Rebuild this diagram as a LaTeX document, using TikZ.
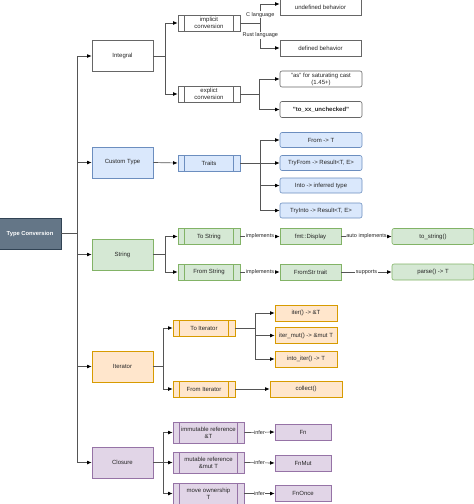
\documentclass[tikz,border=0pt]{standalone}
\usepackage{fontspec}
\setmainfont{Liberation Sans}
\usetikzlibrary{arrows.meta}
\definecolor{lnc}{HTML}{555555}
\definecolor{grs}{HTML}{666666}
\definecolor{tcf}{HTML}{647687}
\definecolor{tcs}{HTML}{314354}
\definecolor{blf}{HTML}{DAE8FC}
\definecolor{bls}{HTML}{6C8EBF}
\definecolor{gnf}{HTML}{D5E8D4}
\definecolor{gns}{HTML}{82B366}
\definecolor{orf}{HTML}{FFE6CC}
\definecolor{ors}{HTML}{D79B00}
\definecolor{puf}{HTML}{E1D5E7}
\definecolor{pus}{HTML}{9673A6}
\tikzset{
  bx/.style={rectangle, draw=#1, line width=0.6pt, inner sep=0pt, align=center,
    font=\fontsize{6}{7}\selectfont, text=black!85},
  inner/.style={path picture={\draw[#1, line width=0.6pt]
    ([xshift=6.3pt]path picture bounding box.north west) -- ([xshift=6.3pt]path picture bounding box.south west)
    ([xshift=-6.3pt]path picture bounding box.north east) -- ([xshift=-6.3pt]path picture bounding box.south east);}},
  cat/.style={minimum width=61pt, minimum height=31pt},
  sml/.style={minimum height=16pt},
  rnd/.style={rounded corners=2pt},
  arr/.style={draw=lnc, line width=0.7pt, -{Latex[length=4.6pt,width=3.8pt,color=black]}},
  lab/.style={fill=white, inner sep=0.6pt, font=\fontsize{5.5}{6}\selectfont, text=black!85},
}
\begin{document}
\begin{tikzpicture}[x=1pt,y=-1pt]
\useasboundingbox (0,0) rectangle (474,504);
% root
\node[bx=tcs, fill=tcf, minimum width=62pt, minimum height=31pt, text=white, font=\bfseries\fontsize{5.8}{7}\selectfont] (tc) at (30,233.5) {Type Conversion};
% categories
\node[bx=grs, fill=white, cat] (integral) at (122.5,56) {Integral};
\node[bx=bls, fill=blf, cat] (custom) at (122.5,162.5) {Custom Type};
\node[bx=gns, fill=gnf, cat] (string) at (122.5,254.5) {String};
\node[bx=ors, fill=orf, cat] (iterator) at (122.5,366.5) {Iterator};
\node[bx=pus, fill=puf, cat] (closure) at (122.5,462.5) {Closure};
% integral
\node[bx=grs, fill=white, inner=grs, minimum width=62pt, sml] (implicit) at (209,23) {implicit\\conversion};
\node[bx=grs, fill=white, inner=grs, minimum width=62pt, sml] (explicit) at (209,94) {explict\\conversion};
\node[bx=grs, fill=white, minimum width=81pt, sml] (undef) at (320.5,7) {undefined behavior};
\node[bx=grs, fill=white, minimum width=81pt, sml] (def) at (320.5,48) {defined behavior};
\node[bx=grs, fill=white, rnd, minimum width=82pt, sml] (as) at (321,79) {"as" for saturating cast\\(1.45+)};
\node[bx=grs, fill=white, rnd, minimum width=82pt, sml] (unchk) at (321,109.5) {\bfseries "to\_xx\_unchecked"};
% custom type
\node[bx=bls, fill=blf, inner=bls, minimum width=62pt, sml] (traits) at (209,163) {Traits};
\node[bx=bls, fill=blf, rnd, minimum width=82pt, minimum height=15pt] (from) at (321,140) {From -> T};
\node[bx=bls, fill=blf, rnd, minimum width=82pt, minimum height=15pt] (tryfrom) at (321,163) {TryFrom -> Result<T, E>};
\node[bx=bls, fill=blf, rnd, minimum width=82pt, minimum height=15pt] (into) at (321,185.5) {Into -> inferred type};
\node[bx=bls, fill=blf, rnd, minimum width=82pt, minimum height=15pt] (tryinto) at (321,210.5) {TryInto -> Result<T, E>};
% string
\node[bx=gns, fill=gnf, inner=gns, minimum width=62pt, sml] (tostr) at (209,236.5) {To String};
\node[bx=gns, fill=gnf, inner=gns, minimum width=62pt, sml] (fromstr) at (209,272) {From String};
\node[bx=gns, fill=gnf, minimum width=61pt, sml] (display) at (310.5,236.5) {fmt::Display};
\node[bx=gns, fill=gnf, minimum width=61pt, sml] (fromstrt) at (310.5,272) {FromStr trait};
\node[bx=gns, fill=gnf, rnd, minimum width=82pt, sml] (tostring) at (433,236.5) {to\_string()};
\node[bx=gns, fill=gnf, rnd, minimum width=82pt, sml] (parse) at (433,272) {parse() -> T};
% iterator
\node[bx=ors, fill=orf, inner=ors, minimum width=62pt, sml] (toiter) at (204,328) {To Iterator};
\node[bx=ors, fill=orf, inner=ors, minimum width=62pt, sml] (fromiter) at (204,389) {From Iterator};
\node[bx=ors, fill=orf, minimum width=62pt, sml] (iter) at (306,313) {iter() -> \&T};
\node[bx=ors, fill=orf, minimum width=62pt, sml] (itermut) at (306,335.5) {iter\_mut() -> \&mut T};
\node[bx=ors, fill=orf, minimum width=62pt, sml] (intoiter) at (306,359) {into\_iter() -> T};
\node[bx=ors, fill=orf, minimum width=72pt, sml] (collect) at (306,389) {collect()};
% closure
\node[bx=pus, fill=puf, inner=pus, minimum width=71pt, minimum height=21pt] (immref) at (208.5,432.5) {immutable reference\\\&T};
\node[bx=pus, fill=puf, inner=pus, minimum width=71pt, minimum height=21pt] (mutref) at (208.5,462.5) {mutable reference\\\&mut T};
\node[bx=pus, fill=puf, inner=pus, minimum width=71pt, minimum height=21pt] (move) at (208.5,493.5) {move ownership\\T};
\node[bx=pus, fill=puf, minimum width=56pt, sml] (fn) at (303,432) {Fn};
\node[bx=pus, fill=puf, minimum width=56pt, sml] (fnmut) at (303,463) {FnMut};
\node[bx=pus, fill=puf, minimum width=56pt, sml] (fnonce) at (303,493.5) {FnOnce};
% trunk
\coordinate (tr) at (77,233.5);
\draw[arr] (tc.east) -- (tr) |- (integral.west);
\draw[arr] (tc.east) -- (tr) |- (custom.west);
\draw[arr] (tc.east) -- (tr) |- (string.west);
\draw[arr] (tc.east) -- (tr) |- (iterator.west);
\draw[arr] (tc.east) -- (tr) |- (closure.west);
% integral connectors
\draw[arr] (integral.east) -- ++(12,0) |- (implicit.west);
\draw[arr] (integral.east) -- ++(12,0) |- (explicit.west);
\draw[arr] (implicit.east) -- ++(20,0) |- node[lab, pos=0.22]{C language} ([yshift=3pt]undef.west);
\draw[arr] (implicit.east) -- ++(20,0) |- node[lab, pos=0.25]{Rust language} (def.west);
\draw[arr] (explicit.east) -- ++(19,0) |- (as.west);
\draw[arr] (explicit.east) -- ++(19,0) |- (unchk.west);
% custom type connectors
\draw[arr] (custom.east) -- (traits.west);
\draw[arr] (traits.east) -- ++(20,0) |- (from.west);
\draw[arr] (traits.east) -- (tryfrom.west);
\draw[arr] (traits.east) -- ++(20,0) |- (into.west);
\draw[arr] (traits.east) -- ++(20,0) |- (tryinto.west);
% string connectors
\draw[arr] (string.east) -- ++(12.5,0) |- (tostr.west);
\draw[arr] (string.east) -- ++(12.5,0) |- (fromstr.west);
\draw[arr] (tostr.east) -- node[lab]{implements} (display.west);
\draw[arr] (display.east) -- node[lab]{auto implements} (tostring.west);
\draw[arr] (fromstr.east) -- node[lab]{implements} (fromstrt.west);
\draw[arr] (fromstrt.east) -- node[lab]{supports} (parse.west);
% iterator connectors
\draw[arr] (iterator.east) -- ++(10,0) |- (toiter.west);
\draw[arr] (iterator.east) -- ++(10,0) |- (fromiter.west);
\draw[arr] (toiter.east) -- ++(20,0) |- (iter.west);
\draw[arr] (toiter.east) -- ++(20,0) |- (itermut.west);
\draw[arr] (toiter.east) -- ++(20,0) |- (intoiter.west);
\draw[arr] (fromiter.east) -- (collect.west);
% closure connectors
\draw[arr] (closure.east) -- ++(10,0) |- (immref.west);
\draw[arr] (closure.east) -- (mutref.west);
\draw[arr] (closure.east) -- ++(10,0) |- (move.west);
\draw[arr] (immref.east) -- node[lab]{infer} (fn.west);
\draw[arr] (mutref.east) -- node[lab]{infer} (fnmut.west);
\draw[arr] (move.east) -- node[lab]{infer} (fnonce.west);
\end{tikzpicture}
\end{document}
